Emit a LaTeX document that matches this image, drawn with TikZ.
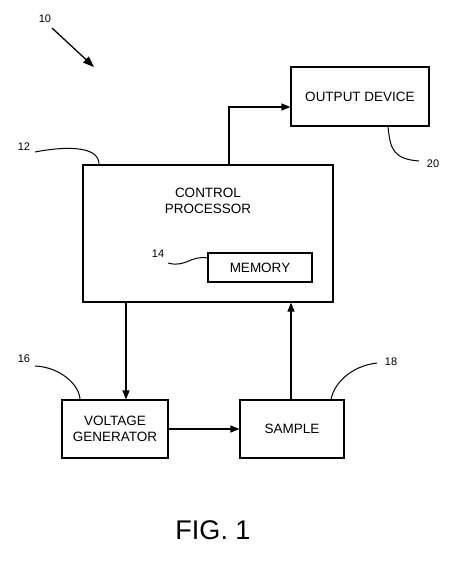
\documentclass[tikz,border=0pt]{standalone}
\usepackage{fontspec}
\setmainfont{Liberation Sans}
\usetikzlibrary{arrows.meta}
\begin{document}
\begin{tikzpicture}[x=1pt,y=-1pt,
  box/.style={draw,line width=1.2pt,rectangle,inner sep=0pt},
  boxtext/.style={font=\fontsize{13.5}{15.5}\selectfont,align=center,inner sep=0pt},
  arr/.style={line width=1.2pt,-{Triangle[length=9pt,width=7pt]}},
  bigarr/.style={line width=1.3pt,-{Triangle[length=11pt,width=8pt]}},
  lead/.style={line width=1pt},
  lbl/.style={font=\fontsize{11}{13}\selectfont,inner sep=0pt}]
\useasboundingbox (0,0) rectangle (474,562);
% boxes
\node[box,minimum width=250pt,minimum height=137pt] (cp) at (208,233.5) {};
\node[boxtext] (cptext) at (208,201) {CONTROL\\PROCESSOR};
\node[box,boxtext,minimum width=104pt,minimum height=29pt] (mem) at (260,267.5) {MEMORY};
\node[box,boxtext,minimum width=138pt,minimum height=59pt] (out) at (360,96.5) {OUTPUT DEVICE};
\node[box,boxtext,minimum width=106pt,minimum height=58pt] (vg) at (115,429) {VOLTAGE\\GENERATOR};
\node[box,boxtext,minimum width=104pt,minimum height=58pt] (smp) at (292,429) {SAMPLE};
% helper coordinates
\coordinate (xa) at (229,0);
\coordinate (xd) at (126,0);
\coordinate (xu) at (291,0);
\coordinate (ya) at (0,107);
% connectors
\draw[arr] (cp.north -| xa) |- (out.west |- ya);
\draw[arr] (cp.south -| xd) -- (vg.north -| xd);
\draw[arr] (vg.east) -- (smp.west);
\draw[arr] (smp.north -| xu) -- (cp.south -| xu);
% reference numerals
\node[lbl] (l10) at (45,19) {10};
\coordinate (a10s) at (52,28);
\coordinate (a10e) at (94,67);
\draw[bigarr] (a10s) -- (a10e);
\node[lbl] (l12) at (24,147) {12};
\draw[lead] (35,152) .. controls (60,147) and (100,144) .. (99,165);
\node[lbl] (l14) at (158,254) {14};
\draw[lead] (168,263) .. controls (186,268) and (190,255) .. (208,258);
\node[lbl] (l20) at (433,164) {20};
\draw[lead] (388,126) .. controls (390,150) and (394,159) .. (419,161);
\node[lbl] (l16) at (24,359) {16};
\draw[lead] (35,366) .. controls (60,367) and (80,385) .. (80,400);
\node[lbl] (l18) at (391,362) {18};
\draw[lead] (377,363) .. controls (350,366) and (333,385) .. (331,400);
% caption
\node[font=\fontsize{27}{30}\selectfont,inner sep=0pt] (fig) at (213,530) {FIG. 1};
\end{tikzpicture}
\end{document}
